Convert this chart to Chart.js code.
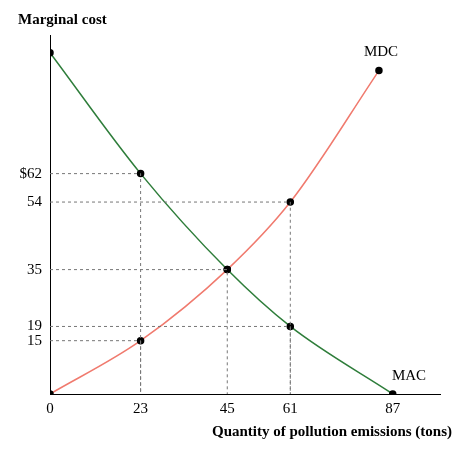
<!DOCTYPE html>
<html>
<head>
<meta charset="utf-8">
<script src="https://cdn.jsdelivr.net/npm/chart.js@4"></script>
<style>
  body { margin: 0; background: #fff; }
  #wrap { width: 474px; height: 462px; }
</style>
</head>
<body>
<div id="wrap"><canvas id="chart"></canvas></div>
<script>
// values
const macX = [0, 23, 45, 61, 87];
const macY = [96, 62, 35, 19, 0];
const mdcX = [0, 23, 45, 61, 83.5];
const mdcY = [0, 15, 35, 54, 91];
const xTicks = [0, 23, 45, 61, 87];
const yTicks = [15, 19, 35, 54, 62];

const toPts = (xs, ys) => xs.map((x, i) => ({ x, y: ys[i] }));

// dashed guides: from y axis to the point, then down to x axis
const guides = [[23, 62], [61, 54], [45, 35], [61, 19], [23, 15]].map(([x, y]) => ({
  data: [{ x: 0, y }, { x, y }, { x, y: 0 }],
  borderColor: "#777",
  borderWidth: 1,
  borderDash: [3, 3],
  pointRadius: 0,
  tension: 0
}));

const labels = {
  id: "labels",
  afterDraw(chart) {
    const c = chart.ctx, xs = chart.scales.x, ys = chart.scales.y;
    c.save();
    c.fillStyle = "#000";
    c.font = "bold 15px 'Liberation Serif'";
    c.textAlign = "left";
    c.fillText("Marginal cost", 18, 24);
    c.textAlign = "right";
    c.fillText("Quantity of pollution emissions (tons)", 452, 436);
    c.font = "15px 'Liberation Serif'";
    c.textAlign = "center";
    c.fillText("MDC", 381, 56);
    c.fillText("MAC", 409, 380);
    c.restore();
  }
};

new Chart(document.getElementById("chart"), {
  type: "line",
  data: {
    datasets: [
      ...guides,
      {
        data: toPts(macX, macY),
        borderColor: "#2e7d3a",
        borderWidth: 1.5,
        cubicInterpolationMode: "monotone",
        pointRadius: 3,
        pointBackgroundColor: "#000",
        pointBorderColor: "#000"
      },
      {
        data: toPts(mdcX, mdcY),
        borderColor: "#f07a6e",
        borderWidth: 1.5,
        cubicInterpolationMode: "monotone",
        pointRadius: 3,
        pointBackgroundColor: "#000",
        pointBorderColor: "#000"
      }
    ]
  },
  options: {
    responsive: true,
    maintainAspectRatio: false,
    animation: false,
    layout: { padding: { left: 10, top: 35, right: 34, bottom: 0 } },
    plugins: { legend: { display: false }, tooltip: { enabled: false } },
    scales: {
      x: {
        type: "linear", min: 0, max: 99,
        grid: { display: false, drawTicks: false },
        border: { color: "#000", width: 1 },
        afterBuildTicks: s => { s.ticks = xTicks.map(v => ({ value: v })); },
        afterFit: s => { s.height = 68; },
        ticks: { color: "#000", padding: 6, font: { family: "'Liberation Serif'", size: 15 } }
      },
      y: {
        type: "linear", min: 0, max: 101,
        grid: { display: false, drawTicks: false },
        border: { color: "#000", width: 1 },
        afterBuildTicks: s => { s.ticks = yTicks.map(v => ({ value: v })); },
        afterFit: s => { s.width = 40; },
        ticks: {
          color: "#000", padding: 8,
          font: { family: "'Liberation Serif'", size: 15 },
          callback: v => v === 62 ? "$62" : v
        }
      }
    }
  },
  plugins: [labels]
});
</script>
</body>
</html>
